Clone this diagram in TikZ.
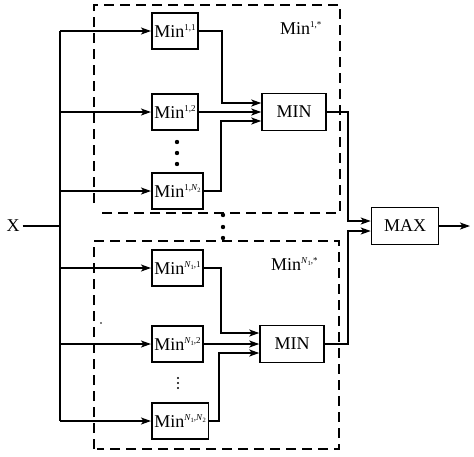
\documentclass[tikz,border=0pt]{standalone}
\usepackage{fontspec}
\setmainfont{Liberation Serif}
\usetikzlibrary{arrows.meta}

\newcommand{\supidx}[1]{\raisebox{0.4em}{\fontsize{9}{9}\selectfont #1}}
\newcommand{\Nidx}[1]{\textit{N}\raisebox{-0.25em}{\fontsize{6.5}{6.5}\selectfont #1}}

\tikzset{
  unit/.style={draw,line width=1.5pt,minimum height=36pt,inner xsep=2.5pt,inner ysep=0pt,anchor=west,font=\fontsize{18}{18}\selectfont},
  gate/.style={draw,line width=1.5pt,minimum width=64pt,minimum height=37pt,inner sep=0pt,font=\fontsize{18}{18}\selectfont},
  wire/.style={line width=1.5pt},
  feed/.style={wire,-{Stealth[length=10pt,width=7pt,inset=2.5pt]}},
  frame/.style={line width=1.7pt,dash pattern=on 10pt off 6pt},
}

\begin{document}
\begin{tikzpicture}[x=1pt,y=-1pt,line cap=butt,line join=miter]
\useasboundingbox (0,0) rectangle (474,456);
% dashed groups
\draw[frame] (94,203) -- (94,5) -- (340,5) -- (340,213) -- (97,213);
\draw[frame] (94,449) -- (94,241) -- (339,241) -- (339,449) -- (97,449);
\node[font=\fontsize{18}{18}\selectfont,anchor=west,inner sep=0pt] (lab1) at (280,28) {Min\supidx{1,*}};
\node[font=\fontsize{18}{18}\selectfont,anchor=west,inner sep=0pt] (lab2) at (271,264) {Min\supidx{\Nidx{1},*}};
% first group
\node[unit] (m11) at (151,31) {Min\supidx{1,1}};
\node[unit] (m12) at (151,112) {Min\supidx{1,2}};
\node[unit] (m1n) at (151,191) {Min\supidx{1,\Nidx{2}}};
\node[gate] (min1) at (294,112) {MIN};
% second group
\node[unit] (mn1) at (151,268) {Min\supidx{\Nidx{1},1}};
\node[unit] (mn2) at (151,344) {Min\supidx{\Nidx{1},2}};
\node[unit] (mnn) at (151,421) {Min\supidx{\Nidx{1},\Nidx{2}}};
\node[gate] (min2) at (292,344) {MIN};
\node[gate,minimum width=67pt] (max) at (405,226) {MAX};
% input fan
\node[font=\fontsize{18}{18}\selectfont,inner sep=0pt] (x) at (13,226) {X};
\coordinate (j) at (60,226);
\coordinate (ttop) at (60,31);
\coordinate (tbot) at (60,421);
\coordinate (out) at (470,226);
\draw[wire] (x.east) ++(3,0) -- (j);
\draw[wire] (ttop) -- (tbot);
\foreach \n in {m11,m12,m1n,mn1,mn2,mnn}
  \draw[feed] (ttop |- \n.west) -- (\n.west);
% into the MIN gates
\draw[feed] (m11.east) -| (222,103) -- (min1.west |- 0,103);
\draw[feed] (m12.east) -- (min1.west);
\draw[feed] (m1n.east) -| (221,121) -- (min1.west |- 0,121);
\draw[feed] (mn1.east) -| (221,333) -- (min2.west |- 0,333);
\draw[feed] (mn2.east) -- (min2.west);
\draw[feed] (mnn.east) -| (219,353) -- (min2.west |- 0,353);
% into MAX
\draw[feed] (min1.east) -| (348,221) -- (max.west |- 0,221);
\draw[feed] (min2.east) -| (348,231) -- (max.west |- 0,231);
\draw[feed] (max.east) -- (out);
% dots
\foreach \y in {142,153,164} \fill (177,\y) circle (2.2);
\foreach \y in {215,227,238} \fill (223,\y) circle (2.2);
\foreach \y in {378,383,388} \fill (178,\y) circle (1.2);
\fill (101,323) circle (0.9);
\end{tikzpicture}
\end{document}
